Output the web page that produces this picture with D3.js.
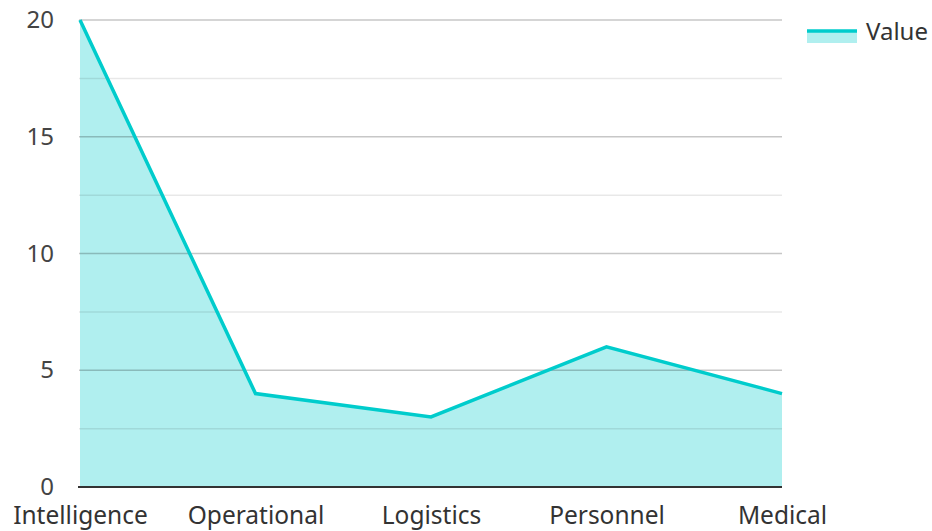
<!DOCTYPE html>
<html>
<head>
<meta charset="utf-8">
<script src="https://cdn.jsdelivr.net/npm/d3@7"></script>
<style>
  body { margin: 0; background: #fff; }
  svg text { font-family: "Noto Sans", sans-serif; }
</style>
</head>
<body>
<div id="chart"></div>
<script>
var categories = ["Intelligence", "Operational", "Logistics", "Personnel", "Medical"];
var values = [20, 4, 3, 6, 4];
var majorTicks = [0, 5, 10, 15, 20];
var minorTicks = [2.5, 7.5, 12.5, 17.5];
var seriesName = "Value";

var width = 932, height = 531;
var margin = { top: 20, left: 80, right: 150, bottom: 44 };

var svg = d3.select("#chart")
  .append("svg")
  .attr("width", width)
  .attr("height", height);

var x = d3.scalePoint().domain(categories).range([margin.left, width - margin.right]);
var y = d3.scaleLinear().domain([0, 20]).range([height - margin.bottom, margin.top]);

var data = categories.map(function(c, i) { return { cat: c, value: values[i] }; });

// area first, grid on top so it shows through
svg.append("path")
  .datum(data)
  .attr("fill", "rgba(0,204,204,0.31)")
  .attr("d", d3.area()
    .x(function(d) { return x(d.cat); })
    .y0(y(0))
    .y1(function(d) { return y(d.value); }));

svg.append("g")
  .selectAll("line")
  .data(minorTicks)
  .enter().append("line")
  .attr("x1", margin.left - 1).attr("x2", width - margin.right)
  .attr("y1", function(d) { return y(d); })
  .attr("y2", function(d) { return y(d); })
  .attr("stroke", "rgba(0,0,0,0.09)")
  .attr("stroke-width", 1.5);

svg.append("g")
  .selectAll("line")
  .data(majorTicks.filter(function(d) { return d > 0; }))
  .enter().append("line")
  .attr("x1", margin.left - 1).attr("x2", width - margin.right)
  .attr("y1", function(d) { return y(d); })
  .attr("y2", function(d) { return y(d); })
  .attr("stroke", "rgba(0,0,0,0.22)")
  .attr("stroke-width", 1.5);

svg.append("path")
  .datum(data)
  .attr("fill", "none")
  .attr("stroke", "#00cccc")
  .attr("stroke-width", 3.5)
  .attr("stroke-linejoin", "miter")
  .attr("d", d3.line()
    .x(function(d) { return x(d.cat); })
    .y(function(d) { return y(d.value); }));

// x axis
var xAxis = svg.append("g")
  .attr("transform", "translate(0," + y(0) + ")")
  .call(d3.axisBottom(x).tickSize(0).tickPadding(20));
xAxis.select(".domain")
  .attr("d", "M" + (margin.left - 2) + ",0H" + (width - margin.right))
  .attr("stroke", "#333")
  .attr("stroke-width", 2);
xAxis.selectAll("text")
  .attr("font-size", 24.5)
  .attr("font-family", "Noto Sans, sans-serif")
  .attr("fill", "#333");

// y axis
var yAxis = svg.append("g")
  .attr("transform", "translate(" + margin.left + ",0)")
  .call(d3.axisLeft(y).tickValues(majorTicks).tickSize(0).tickPadding(26));
yAxis.select(".domain").remove();
yAxis.selectAll("text")
  .attr("font-size", 24)
  .attr("font-family", "Noto Sans, sans-serif")
  .attr("fill", "#444");

// legend
var legend = svg.append("g").attr("transform", "translate(807,31)");
legend.append("rect")
  .attr("x", 0).attr("y", 0).attr("width", 50).attr("height", 12)
  .attr("fill", "rgba(0,204,204,0.31)");
legend.append("line")
  .attr("x1", 0).attr("x2", 50).attr("y1", 0).attr("y2", 0)
  .attr("stroke", "#00cccc").attr("stroke-width", 3.5);
legend.append("text")
  .attr("x", 59).attr("y", 9)
  .attr("font-size", 24)
  .attr("fill", "#333")
  .text(seriesName);
</script>
</body>
</html>
